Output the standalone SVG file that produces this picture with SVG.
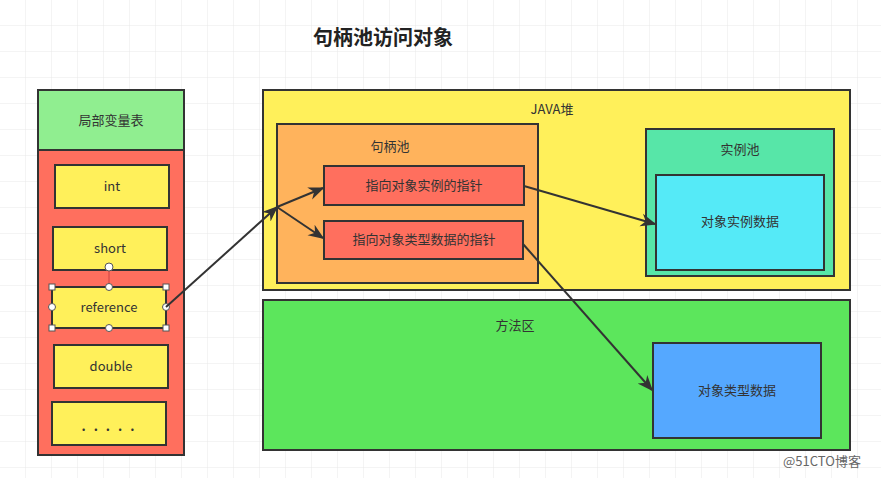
<svg xmlns="http://www.w3.org/2000/svg" width="881" height="478" viewBox="0 0 881 478">
<defs>
<pattern id="grid" width="26" height="26" patternUnits="userSpaceOnUse"><path d="M26 0V26H0" fill="none" stroke="#e8e8e8" stroke-width="1"/></pattern>
<marker id="ah" viewBox="0 0 10 10" refX="9" refY="5" markerWidth="8" markerHeight="8" orient="auto"><path d="M0 1L10 5L0 9L3 5Z" fill="#333"/></marker>
</defs>
<style>
.b{stroke:#333;stroke-width:2}
.t{font-family:"Noto Sans CJK SC","Liberation Sans",sans-serif;font-size:13px;fill:#333;text-anchor:middle;dominant-baseline:middle}
.c{stroke:#333;stroke-width:2;fill:none;marker-end:url(#ah)}
.h{fill:#fff;stroke:#555;stroke-width:1}
</style>
<rect width="881" height="478" fill="#fff"/>
<rect width="881" height="478" fill="url(#grid)"/>
<text x="383" y="40" class="t" style="font-size:20px;font-weight:bold;fill:#222">句柄池访问对象</text>
<g id="local">
<rect x="38" y="150" width="146" height="305" fill="#ff6f5e" class="b"/>
<rect x="38" y="90" width="146" height="60" fill="#90ee90" class="b"/>
<text x="111" y="121" class="t">局部变量表</text>
</g>
<g id="int"><rect x="55" y="165" width="114" height="43" fill="#fff05a" class="b"/><text x="112" y="187" class="t">int</text></g>
<g id="short"><rect x="53" y="227" width="114" height="43" fill="#fff05a" class="b"/><text x="110" y="249" class="t">short</text></g>
<g id="reference"><rect x="52" y="287" width="114" height="41" fill="#fff05a" class="b"/><text x="109" y="308" class="t">reference</text>
<line x1="109" y1="267" x2="109" y2="287" stroke="#c44" stroke-width="1"/>
<circle cx="109" cy="267" r="4" class="h"/><circle cx="109" cy="287" r="3.5" class="h"/><circle cx="109" cy="328" r="3.5" class="h"/><circle cx="52" cy="307" r="3.5" class="h"/><circle cx="166" cy="307" r="3.5" class="h"/>
<rect x="49" y="284" width="6" height="6" class="h"/><rect x="163" y="284" width="6" height="6" class="h"/><rect x="49" y="325" width="6" height="6" class="h"/><rect x="163" y="325" width="6" height="6" class="h"/>
</g>
<g id="double"><rect x="54" y="345" width="114" height="43" fill="#fff05a" class="b"/><text x="111" y="367" class="t">double</text></g>
<g id="dots"><rect x="52" y="402" width="114" height="43" fill="#fff05a" class="b"/><text x="112" y="427" class="t" style="letter-spacing:8px;font-weight:bold">.....</text></g>
<g id="heap"><rect x="263" y="90" width="587" height="200" fill="#fff05a" class="b"/><text x="552" y="110" class="t">JAVA堆</text></g>
<g id="pool"><rect x="277" y="124" width="261" height="159" fill="#ffb35c" class="b"/><text x="390" y="147" class="t">句柄池</text></g>
<g id="p1"><rect x="324" y="166" width="200" height="39" fill="#ff6f5e" class="b"/><text x="424" y="186" class="t">指向对象实例的指针</text></g>
<g id="p2"><rect x="324" y="221" width="199" height="38" fill="#ff6f5e" class="b"/><text x="424" y="240" class="t">指向对象类型数据的指针</text></g>
<g id="instpool"><rect x="646" y="129" width="188" height="147" fill="#57e6a8" class="b"/><text x="740" y="150" class="t">实例池</text></g>
<g id="inst"><rect x="656" y="175" width="168" height="95" fill="#55eaf7" class="b"/><text x="740" y="222" class="t">对象实例数据</text></g>
<g id="method"><rect x="263" y="300" width="587" height="150" fill="#5ce65c" class="b"/><text x="515" y="326" class="t">方法区</text></g>
<g id="type"><rect x="653" y="343" width="168" height="95" fill="#55a8ff" class="b"/><text x="737" y="391" class="t">对象类型数据</text></g>
<g id="connectors">
<line x1="166" y1="307" x2="277" y2="207" class="c"/>
<line x1="277" y1="207" x2="323" y2="188" class="c"/>
<line x1="277" y1="207" x2="323" y2="238" class="c"/>
<line x1="524" y1="186" x2="655" y2="224" class="c"/>
<line x1="523" y1="244" x2="652" y2="390" class="c"/>
</g>
<text x="822" y="462" class="t" style="font-size:13px;fill:#666">@51CTO博客</text>
</svg>
